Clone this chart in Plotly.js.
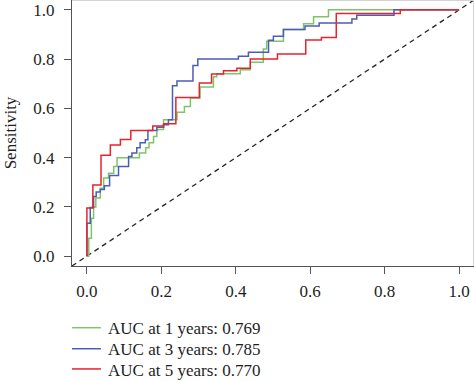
<!DOCTYPE html>
<html>
<head>
<meta charset="utf-8">
<script src="https://cdn.plot.ly/plotly-3.0.1.min.js"></script>
<style>html,body{margin:0;padding:0;background:#fff;}#chart{width:474px;height:381px;}</style>
</head>
<body>
<div id="chart"></div>
<script>
// ROC step vertices: (false positive rate where the step rises, sensitivity after the rise)
var fpr1 = [0, 0.005, 0.012, 0.018, 0.024, 0.036, 0.045, 0.058, 0.072, 0.081, 0.141, 0.158, 0.167, 0.179, 0.188, 0.206, 0.242, 0.262, 0.278, 0.304, 0.340, 0.349, 0.412, 0.439, 0.474, 0.483, 0.528, 0.582, 0.609, 0.649, 1.0];
var tpr1 = [0, 0.073, 0.154, 0.200, 0.236, 0.276, 0.317, 0.337, 0.364, 0.400, 0.419, 0.440, 0.460, 0.486, 0.514, 0.554, 0.584, 0.608, 0.642, 0.687, 0.728, 0.741, 0.757, 0.787, 0.841, 0.873, 0.920, 0.944, 0.972, 1.0, 1.0];

var fpr3 = [0, 0, 0.009, 0.018, 0.025, 0.036, 0.047, 0.061, 0.085, 0.112, 0.121, 0.134, 0.143, 0.157, 0.164, 0.188, 0.206, 0.219, 0.230, 0.242, 0.285, 0.298, 0.407, 0.434, 0.488, 0.501, 0.528, 0.586, 0.624, 0.712, 0.725, 0.825, 1.0];
var tpr3 = [0, 0.134, 0.198, 0.242, 0.260, 0.271, 0.286, 0.327, 0.364, 0.405, 0.419, 0.440, 0.460, 0.473, 0.510, 0.523, 0.534, 0.554, 0.692, 0.711, 0.774, 0.800, 0.812, 0.828, 0.877, 0.893, 0.920, 0.934, 0.947, 0.963, 0.978, 1.0, 1.0];

var fpr5 = [0, 0, 0.016, 0.038, 0.063, 0.090, 0.118, 0.177, 0.206, 0.239, 0.302, 0.335, 0.367, 0.403, 0.439, 0.512, 0.588, 0.630, 0.670, 0.842, 1.0];
var tpr5 = [0, 0.195, 0.289, 0.410, 0.451, 0.474, 0.510, 0.528, 0.538, 0.644, 0.703, 0.740, 0.753, 0.763, 0.800, 0.821, 0.878, 0.888, 0.985, 1.0, 1.0];

var seriesNames = ["AUC at 1 years: 0.769", "AUC at 3 years: 0.785", "AUC at 5 years: 0.770"];
var seriesColors = ["#7ec46a", "#4a5db8", "#e5242d"];
var tickVals = [0, 0.2, 0.4, 0.6, 0.8, 1.0];
var tickText = ["0.0", "0.2", "0.4", "0.6", "0.8", "1.0"];

var axRange = [-0.04, 1.04];
var font = "Liberation Serif, Times New Roman, serif";
var fs = 17;
var txtColor = "#1e1e1e";

var xs = [fpr1, fpr3, fpr5], ys = [tpr1, tpr3, tpr5];
var traces = [{
  x: axRange, y: axRange, mode: "lines", type: "scatter",
  line: {color: "#222", width: 1.3, dash: "5px,4px"}, showlegend: false, hoverinfo: "skip"
}];
for (var i = 0; i < 3; i++) {
  traces.push({x: xs[i], y: ys[i], mode: "lines", type: "scatter", name: seriesNames[i],
    line: {color: seriesColors[i], width: 1.5, shape: "hv"}, showlegend: false});
}

var shapes = [
  {type: "line", xref: "paper", yref: "paper", x0: 0, x1: 1, y0: 1, y1: 1, line: {color: "#d4d4d4", width: 2}},
  {type: "line", xref: "paper", yref: "paper", x0: 1, x1: 1, y0: 0, y1: 1, line: {color: "#d4d4d4", width: 2}}
];
var annotations = [];
var rowY = [-0.236, -0.315, -0.391];
for (var j = 0; j < 3; j++) {
  shapes.push({type: "line", xref: "paper", yref: "paper", x0: 0, x1: 0.072, y0: rowY[j] + 0.004, y1: rowY[j] + 0.004,
    line: {color: seriesColors[j], width: 1.5}});
  annotations.push({xref: "paper", yref: "paper", x: 0.085, y: rowY[j], xanchor: "left", yanchor: "middle",
    text: seriesNames[j], showarrow: false, font: {family: font, size: fs, color: txtColor}});
}

var layout = {
  width: 474, height: 381,
  margin: {l: 72, r: 0, t: 0, b: 115},
  paper_bgcolor: "#fff", plot_bgcolor: "#fff",
  font: {family: font, size: fs, color: txtColor},
  showlegend: false,
  xaxis: {range: axRange, tickvals: tickVals, ticktext: tickText, showgrid: false, zeroline: false,
    showline: true, linecolor: "#555", linewidth: 1.2, ticks: "outside", ticklen: 7, tickcolor: "#555", tickwidth: 1.2,
    ticklabelstandoff: 2, ticklabeloverflow: "allow", tickfont: {family: font, size: fs, color: txtColor}},
  yaxis: {range: axRange, tickvals: tickVals, ticktext: tickText, showgrid: false, zeroline: false,
    showline: true, linecolor: "#555", linewidth: 1.2, ticks: "outside", ticklen: 7, tickcolor: "#555", tickwidth: 1.2,
    ticklabelstandoff: 6, ticklabeloverflow: "allow", tickfont: {family: font, size: fs, color: txtColor},
    title: {text: "Sensitivity", font: {family: font, size: fs, color: txtColor}, standoff: 12}},
  shapes: shapes,
  annotations: annotations
};
Plotly.newPlot("chart", traces, layout, {displayModeBar: false, staticPlot: true});
</script>
</body>
</html>
